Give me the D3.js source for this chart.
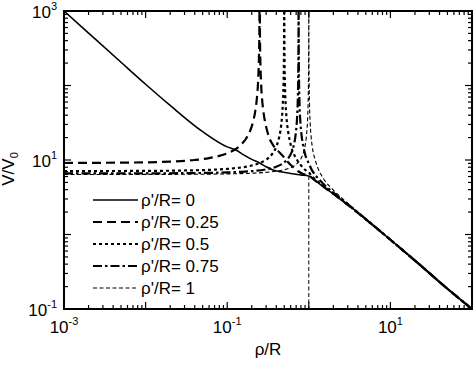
<!DOCTYPE html>
<html><head><meta charset="utf-8">
<script src="https://cdn.jsdelivr.net/npm/d3@7"></script>
<style>body{margin:0;background:#fff}</style>
</head><body><svg id="c" width="474" height="366"></svg>
<script>
// tick label exponents
const xTickExps = [-3, -1, 1];
const yTickExps = [-1, 1, 3];
const seriesNames = ["ρ'/R= 0", "ρ'/R= 0.25", "ρ'/R= 0.5", "ρ'/R= 0.75", "ρ'/R= 1"];

// rho'/R = 0
const rho0 = [0.001,0.002,0.005,0.01,0.02,0.05,0.1,0.128,0.15,0.2,0.25,0.3,0.364,0.45,0.6,0.8,1.0,1.2,1.5,2,3,3.5,5,10,20,50,100];
const v0   = [1000,505,205,104,54,24,15,13.6,12.2,10.2,9.1,8.1,7.35,6.95,6.6,6.3,6.1,5.27,4.4,3.5,2.5,2.2,1.6,0.85,0.447,0.187,0.1];

// rho'/R = 0.25
const rho25 = [0.001,0.01,0.02,0.04,0.06,0.08,0.1,0.12,0.15,0.17,0.19,0.2,0.21,0.22,0.23,0.24,0.245,0.248,0.2495,
               0.2505,0.252,0.255,0.26,0.27,0.28,0.3,0.325,0.37,0.444,0.5,0.55,0.64,0.75,0.85,1.0,1.2,1.5,2,3,5,10,20,50,100];
const v25   = [9.12,9.3,9.52,10.0,10.6,11.36,12.3,13.5,16.3,19.3,24.3,28.3,34.3,44.3,64.3,124,244,604,2404,
               2009,509,209,109,59,42,28,20.4,15.5,12.4,10.8,9.5,8.05,7.0,6.5,6.2,5.3,4.42,3.5,2.5,1.6,0.85,0.447,0.187,0.1];

// rho'/R = 0.5
const rho50 = [0.001,0.01,0.03,0.06,0.1,0.15,0.2,0.25,0.3,0.35,0.4,0.43,0.45,0.47,0.48,0.49,0.495,0.498,0.4995,
               0.5005,0.502,0.505,0.51,0.52,0.536,0.56,0.6,0.7,0.8,0.9,1.0,1.1,1.2,1.5,2,3,5,10,20,50,100];
const v50   = [7.1,7.14,7.23,7.37,7.6,7.96,8.43,9.1,10.1,11.77,15.1,19.4,25.1,38.4,55.1,105,205,505,2005,
               2007,507,207,107,57,34.4,23.5,16,10.5,8.5,7.4,6.8,6.0,5.5,4.5,3.55,2.52,1.6,0.85,0.447,0.187,0.1];

// rho'/R = 0.75
const rho75 = [0.001,0.01,0.03,0.06,0.1,0.15,0.2,0.3,0.4,0.5,0.55,0.6,0.65,0.68,0.7,0.72,0.73,0.74,0.745,0.748,0.7495,
               0.7505,0.752,0.755,0.76,0.77,0.79,0.82,0.85,0.9,1.0,1.1,1.2,1.5,2,3,5,10,20,50,100];
const v75   = [6.6,6.62,6.66,6.72,6.81,6.94,7.09,7.49,8.13,9.27,10.27,11.94,15.27,19.6,25.3,38.6,55.3,105,205,505,2005,
               2006,506,206,106,56.5,31.5,20.5,16,12,9,7.2,6.3,4.8,3.65,2.55,1.61,0.85,0.447,0.187,0.1];

// rho'/R = 1
const rho100 = [0.001,0.01,0.03,0.06,0.1,0.2,0.3,0.4,0.5,0.6,0.7,0.8,0.85,0.9,0.93,0.95,0.97,0.98,0.99,0.995,0.998,0.9995,
                1.0005,1.002,1.005,1.01,1.02,1.04,1.07,1.1,1.2,1.3,1.5,2,3,5,10,20,50,100];
const v100   = [6.4,6.41,6.43,6.46,6.51,6.65,6.83,7.07,7.4,7.9,8.73,10.4,12.07,15.4,19.7,25.4,38.7,55.4,105,205,505,2005,
                2006,506,206,106,56,31,20,15.3,10,7.7,5.7,3.95,2.62,1.63,0.85,0.447,0.187,0.1];

// vertical marker at rho/R = 1
const markerRho = [1, 1];
const markerV = [6.1, 0.1];

const svg = d3.select("#c");
const W = 474, H = 366;
const L = 64, R = 472, T = 11, B = 309;
const x = d3.scaleLog().domain([1e-3, 1e2]).range([L, R]);
const y = d3.scaleLog().domain([1e-1, 1e3]).range([B, T]);
const font = "'Liberation Sans', Arial, Helvetica, sans-serif";

svg.append("defs").append("clipPath").attr("id", "clip")
  .append("rect").attr("x", L).attr("y", T).attr("width", R - L).attr("height", B - T);

const styles = [
  {dash: null, w: 1.6},
  {dash: "9,5", w: 2.2},
  {dash: "3,3", w: 2.2},
  {dash: "9,3,2.5,3", w: 2.2},
  {dash: "4,2.5", w: 1.1}
];
const series = [[rho0, v0], [rho25, v25], [rho50, v50], [rho75, v75], [rho100, v100]];

const line = d3.line().x(d => x(d[0])).y(d => y(d[1])).curve(d3.curveMonotoneX);
const g = svg.append("g").attr("clip-path", "url(#clip)");

// marker line
g.append("path")
  .attr("d", d3.line().x(d => x(d[0])).y(d => y(d[1]))(markerRho.map((r, i) => [r, markerV[i]])))
  .attr("fill", "none").attr("stroke", "#000").attr("stroke-width", 1).attr("stroke-dasharray", "4,2.5");

series.forEach((s, i) => {
  const pts = s[0].map((r, j) => [r, s[1][j]]);
  g.append("path").attr("d", line(pts))
    .attr("fill", "none").attr("stroke", "#000")
    .attr("stroke-width", styles[i].w)
    .attr("stroke-dasharray", styles[i].dash);
});

// ticks on all sides
const tickG = svg.append("g").attr("stroke", "#000").attr("stroke-width", 1.2);
const xt = [];
for (let d = -3; d <= 1; d++) for (let m = 1; m <= 9; m++) xt.push([m * Math.pow(10, d), m === 1]);
xt.push([100, true]);
xt.forEach(([v, major]) => {
  const px = x(v), len = major ? 7 : 4;
  tickG.append("line").attr("x1", px).attr("x2", px).attr("y1", B).attr("y2", B - len);
  tickG.append("line").attr("x1", px).attr("x2", px).attr("y1", T).attr("y2", T + len);
});
const yt = [];
for (let d = -1; d <= 2; d++) for (let m = 1; m <= 9; m++) yt.push([m * Math.pow(10, d), m === 1]);
yt.push([1000, true]);
yt.forEach(([v, major]) => {
  const py = y(v), len = major ? 7 : 4;
  tickG.append("line").attr("y1", py).attr("y2", py).attr("x1", L).attr("x2", L + len);
  tickG.append("line").attr("y1", py).attr("y2", py).attr("x1", R).attr("x2", R - len);
});

// frame
svg.append("rect").attr("x", L).attr("y", T).attr("width", R - L).attr("height", B - T)
  .attr("fill", "none").attr("stroke", "#000").attr("stroke-width", 2);

// tick labels
xTickExps.forEach(e => {
  const t = svg.append("text").attr("x", x(Math.pow(10, e))).attr("y", 333)
    .attr("text-anchor", "middle").attr("font-family", font).attr("font-size", 17);
  t.append("tspan").text("10");
  t.append("tspan").attr("dy", -8).attr("font-size", 11).text(e);
});
yTickExps.forEach(e => {
  const t = svg.append("text").attr("x", 57).attr("y", y(Math.pow(10, e)) + 7)
    .attr("text-anchor", "end").attr("font-family", font).attr("font-size", 17);
  t.append("tspan").text("10");
  t.append("tspan").attr("dy", -8).attr("font-size", 11).text(e);
});

// axis labels
svg.append("text").attr("x", (L + R) / 2).attr("y", 355).attr("text-anchor", "middle")
  .attr("font-family", font).attr("font-size", 17).text("ρ/R");
const yl = svg.append("text").attr("transform", "translate(14,169) rotate(-90)")
  .attr("text-anchor", "middle").attr("font-family", font).attr("font-size", 17);
yl.append("tspan").text("V/V");
yl.append("tspan").attr("dy", 4).attr("font-size", 11).text("0");

// legend
const legY = [200, 222, 244, 266, 288];
seriesNames.forEach((name, i) => {
  svg.append("line").attr("x1", 93).attr("x2", 138).attr("y1", legY[i]).attr("y2", legY[i])
    .attr("stroke", "#000").attr("stroke-width", styles[i].w).attr("stroke-dasharray", styles[i].dash);
  svg.append("text").attr("x", 141).attr("y", legY[i] + 6).attr("font-family", font)
    .attr("font-size", 17).text(name);
});
</script></body></html>
